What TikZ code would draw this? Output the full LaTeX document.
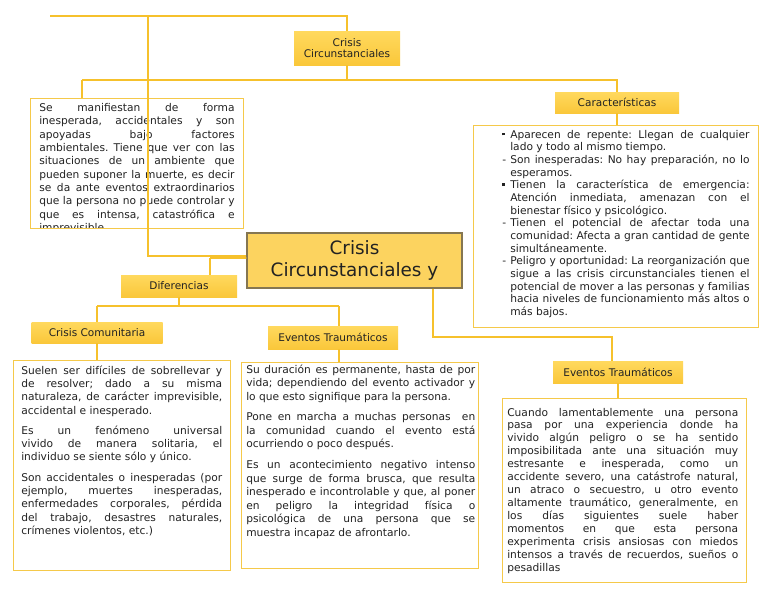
\documentclass[tikz,border=0pt]{standalone}
\usepackage{fontspec}
\setmainfont{DejaVu Sans}
\usetikzlibrary{calc}
\definecolor{gold}{HTML}{F6C12C}
\definecolor{boxtop}{HTML}{FFD95E}
\definecolor{boxbot}{HTML}{FAC73A}
\definecolor{mainfill}{HTML}{FCD35F}
\definecolor{mainedge}{HTML}{857651}
\definecolor{txtedge}{HTML}{F5C94A}
\definecolor{ink}{HTML}{222222}
\newcommand\jl[1]{\hbox to\hsize{#1}}
\newcommand\el[1]{\hbox{#1}}
\newcommand\bul[1]{\hbox to 7.5pt{\hskip1.6pt#1\hss}}
\newcommand\sqb{\raisebox{1.9pt}{\rule{2.1pt}{2.1pt}}}
\frenchspacing
\begin{document}
\begin{tikzpicture}[x=0.75pt,y=-0.75pt,
  lbl/.style={draw=none,top color=boxtop,bottom color=boxbot,inner sep=0pt,
    font=\fontsize{7.9}{8.8}\selectfont,text=ink,align=center},
  tbox/.style={draw=txtedge,line width=0.8pt,inner sep=0pt,anchor=north west},
  txt/.style={anchor=base west,inner sep=0pt,text=ink,font=\fontsize{8}{10}\selectfont},
  conn/.style={draw=gold,line width=0.85pt}]
\useasboundingbox[fill=white] (0,0) rectangle (768,594);

% label boxes
\node[lbl,minimum width=79.5pt,minimum height=25.5pt] (cc) at (347,48) {Crisis\\Circunstanciales};
\node[lbl,minimum width=93pt,minimum height=15.75pt] (car) at (617,102.5) {Características};
\node[draw=mainedge,fill=mainfill,line width=0.8pt,inner sep=0pt,minimum width=161.25pt,minimum height=41.25pt,
  font=\fontsize{13.8}{17}\selectfont,text=ink,align=center] (main) at (354.5,260.5) {Crisis\\Circunstanciales y};
\node[lbl,minimum width=87pt,minimum height=16.5pt] (dif) at (179,286) {Diferencias};
\node[lbl,minimum width=98.25pt,minimum height=15.75pt] (cc2) at (97,332.5) {Crisis Comunitaria};
\node[lbl,minimum width=97.5pt,minimum height=17.25pt] (et1) at (333,337.5) {Eventos Traumáticos};
\node[lbl,minimum width=97.5pt,minimum height=16.5pt] (et2) at (618,372) {Eventos Traumáticos};

% text boxes
\node[tbox,minimum width=159.75pt,minimum height=97.5pt] (tl) at (30,98) {};
\node[tbox,minimum width=213.75pt,minimum height=151.5pt] (tr) at (473,125) {};
\node[tbox,minimum width=162.75pt,minimum height=157.5pt] (b1) at (13,360) {};
\node[tbox,minimum width=177.75pt,minimum height=154.5pt] (b2) at (241,362) {};
\node[tbox,minimum width=183pt,minimum height=138pt] (b3) at (502,398) {};

% texts
\begin{scope}
\clip (30,98) rectangle (243,227);
\node[txt] (tlt) at (39,111.5) {\vtop{\hsize=146.5pt\baselineskip=10pt
\jl{Se manifiestan de forma}
\jl{inesperada, accidentales y son}
\jl{apoyadas bajo factores}
\jl{ambientales. Tiene que ver con las}
\jl{situaciones de un ambiente que}
\jl{pueden suponer la muerte, es decir}
\jl{se da ante eventos extraordinarios}
\jl{que la persona no puede controlar y}
\jl{que es intensa, catastrófica e}
\el{imprevisible.}}};
\end{scope}

\node[txt] (trt) at (500,138) {\vtop{\hsize=187pt\baselineskip=9.5pt
\jl{\bul{\sqb}Aparecen de repente: Llegan de cualquier}
\el{\hskip7.5pt lado y todo al mismo tiempo.}
\jl{\bul{-}Son inesperadas: No hay preparación, no lo}
\el{\hskip7.5pt esperamos.}
\jl{\bul{\sqb}Tienen la característica de emergencia:}
\jl{\hskip7.5pt Atención inmediata, amenazan con el}
\el{\hskip7.5pt bienestar físico y psicológico.}
\jl{\bul{-}Tienen el potencial de afectar toda una}
\jl{\hskip7.5pt comunidad: Afecta a gran cantidad de gente}
\el{\hskip7.5pt simultáneamente.}
\jl{\bul{-}Peligro y oportunidad: La reorganización que}
\jl{\hskip7.5pt sigue a las crisis circunstanciales tienen el}
\jl{\hskip7.5pt potencial de mover a las personas y familias}
\jl{\hskip7.5pt hacia niveles de funcionamiento más altos o}
\el{\hskip7.5pt más bajos.}}};

\node[txt] (b1t) at (21,374) {\vtop{\hsize=150.75pt\baselineskip=10pt
\jl{Suelen ser difíciles de sobrellevar y}
\jl{de resolver; dado a su misma}
\jl{naturaleza, de carácter imprevisible,}
\el{accidental e inesperado.}
\vskip5.2pt
\jl{Es un fenómeno universal}
\jl{vivido de manera solitaria, el}
\el{individuo se siente sólo y único.}
\vskip5.2pt
\jl{Son accidentales o inesperadas (por}
\jl{ejemplo, muertes inesperadas,}
\jl{enfermedades corporales, pérdida}
\jl{del trabajo, desastres naturales,}
\el{crímenes violentos, etc.)}}};

\node[txt] (b2t) at (246,373) {\vtop{\hsize=171.75pt\baselineskip=10.2pt
\jl{Su duración es permanente, hasta de por}
\jl{vida; dependiendo del evento activador y}
\el{lo que esto signifique para la persona.}
\vskip5.2pt
\jl{Pone en marcha a muchas personas\ \ en}
\jl{la comunidad cuando el evento está}
\el{ocurriendo o poco después.}
\vskip5.2pt
\jl{Es un acontecimiento negativo intenso}
\jl{que surge de forma brusca, que resulta}
\jl{inesperado e incontrolable y que, al poner}
\jl{en peligro la integridad física o}
\jl{psicológica de una persona que se}
\el{muestra incapaz de afrontarlo.}}};

\node[txt] (b3t) at (507,416) {\vtop{\hsize=173.25pt\baselineskip=9.7pt
\jl{Cuando lamentablemente una persona}
\jl{pasa por una experiencia donde ha}
\jl{vivido algún peligro o se ha sentido}
\jl{imposibilitada ante una situación muy}
\jl{estresante e inesperada, como un}
\jl{accidente severo, una catástrofe natural,}
\jl{un atraco o secuestro, u otro evento}
\jl{altamente traumático, generalmente, en}
\jl{los días siguientes suele haber}
\jl{momentos en que esta persona}
\jl{experimenta crisis ansiosas con miedos}
\jl{intensos a través de recuerdos, sueños o}
\el{pesadillas}}};

% connectors
\coordinate (t0) at (50,16);
\coordinate (t1) at (148,16);
\coordinate (h1L) at (82,80);
\coordinate (d1) at (210,258);
\coordinate (h2L) at (97,306);
\coordinate (h2R) at (339,306);
\coordinate (m1) at (433,337);
\coordinate (m2) at (612,337);

\draw[conn,line width=1.6pt] (t0) -- (t1);
\draw[conn] (t1) -- (t1 -| cc.north) -- (cc.north);
\draw[conn] (t1) |- ([yshift=3.4pt]main.west);
\draw[conn] (cc.south) -- (cc.south |- h1L);
\draw[conn] (h1L) -- (h1L -| car.north) -- (car.north);
\draw[conn] (h1L) -- (h1L |- tl.north);
\draw[conn] (car.south) -- (car.south |- tr.north);
\draw[conn,line width=1.3pt] ([yshift=1.9pt]main.west) -- (d1);
\draw[conn] (d1) -- (d1 |- dif.north);
\draw[conn] (dif.south) -- (dif.south |- h2L);
\draw[conn] (h2L) -- (h2R);
\draw[conn] (h2L) -- (h2L |- cc2.north);
\draw[conn] (h2R) -- (h2R |- et1.north);
\draw[conn] (cc2.south) -- (cc2.south |- b1.north);
\draw[conn] (h2R |- et1.south) -- (h2R |- b2.north);
\draw[conn] (m1 |- main.south) -- (m1) -- (m2) -- (m2 |- et2.north);
\draw[conn] (et2.south) -- (et2.south |- b3.north);
\end{tikzpicture}
\end{document}
